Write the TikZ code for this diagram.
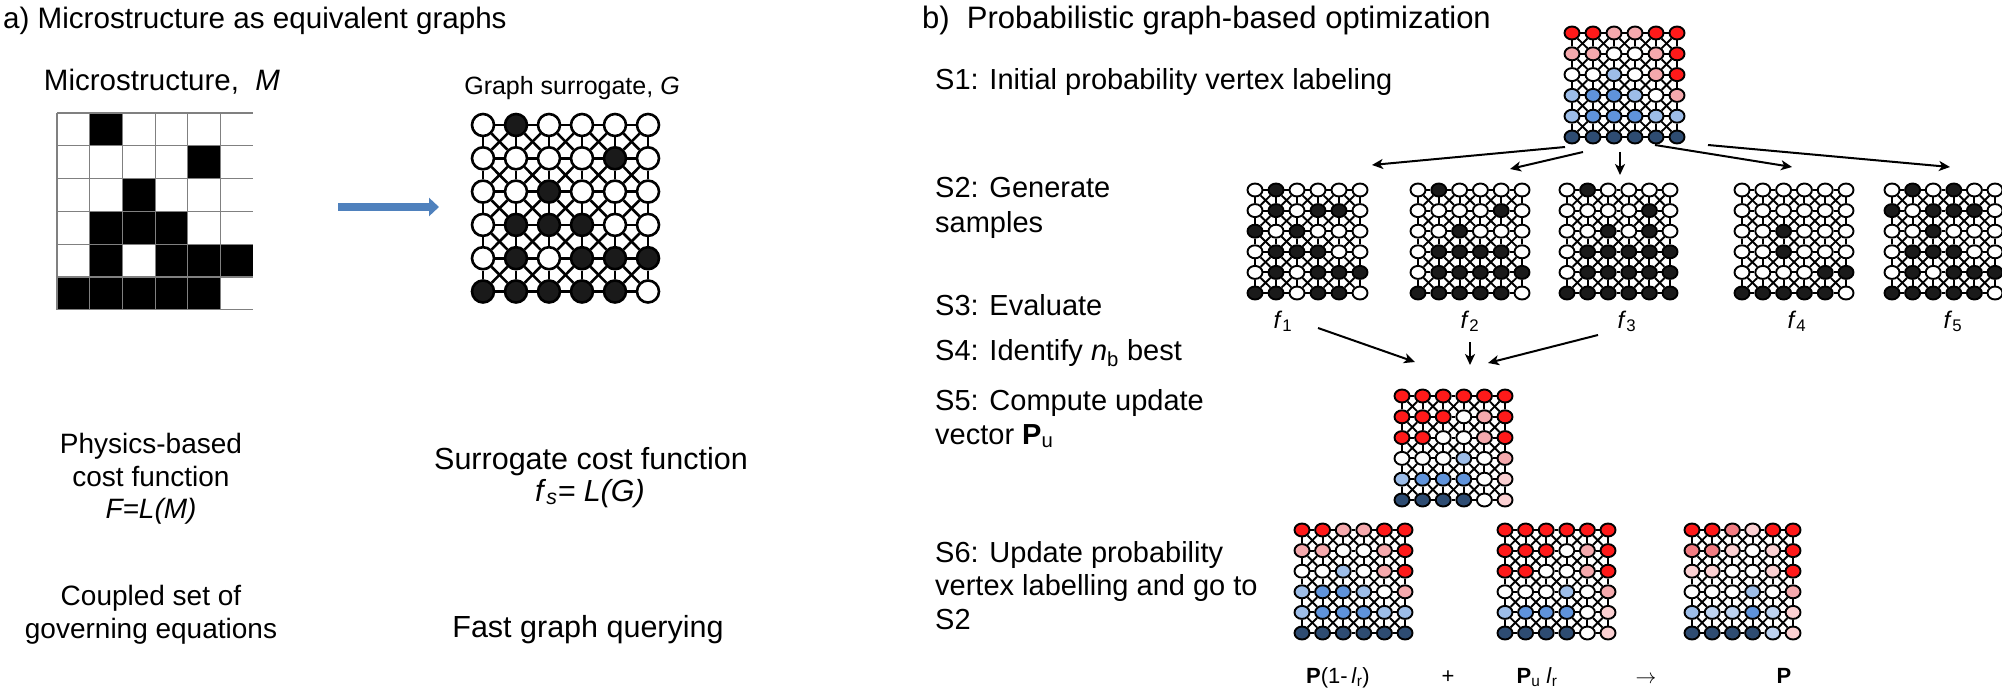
\documentclass[tikz,border=0pt]{standalone}
\usepackage{fontspec}
\setmainfont{Liberation Sans}
\usetikzlibrary{arrows.meta,backgrounds,shapes.geometric}

\definecolor{cR}{HTML}{FF1A1A}
\definecolor{cP}{HTML}{F5A9AD}
\definecolor{cL}{HTML}{FBD0D2}
\definecolor{cM}{HTML}{F27C82}
\definecolor{cW}{HTML}{FFFFFF}
\definecolor{cA}{HTML}{9DBDE8}
\definecolor{cB}{HTML}{5F93DB}
\definecolor{cC}{HTML}{BDD2F0}
\definecolor{cN}{HTML}{2E4C72}
\definecolor{cK}{HTML}{1A1A1A}
\definecolor{arrowblue}{HTML}{4F81BD}

\tikzset{
  bigv/.style={circle, draw, line width=2.6pt, minimum size=22pt, inner sep=0pt},
  bige/.style={line width=2.6pt},
  smv/.style={ellipse, draw, line width=1.9pt, minimum width=15pt, minimum height=13pt, inner sep=0pt},
  sme/.style={line width=1.9pt},
  gridl/.style={line width=1.2pt, color=gray},
  heada/.style={font=\fontsize{29.6}{34}\selectfont, inner sep=0pt, anchor=base west},
  headb/.style={font=\fontsize{31}{35}\selectfont, inner sep=0pt, anchor=base west},
  stxt/.style={font=\fontsize{29}{34}\selectfont, inner sep=0pt, anchor=base west},
  ctxt/.style={font=\fontsize{28}{33}\selectfont, inner sep=0pt, anchor=base},
  dtxt/.style={font=\fontsize{30.5}{35}\selectfont, inner sep=0pt, anchor=base},
  ttl/.style={font=\fontsize{25}{30}\selectfont, inner sep=0pt, anchor=base},
  ttlm/.style={font=\fontsize{29.5}{34}\selectfont, inner sep=0pt, anchor=base},
  flab/.style={font=\fontsize{24}{28}\selectfont, inner sep=0pt, anchor=base},
  blab/.style={font=\fontsize{22}{26}\selectfont, inner sep=0pt, anchor=base},
  arr/.style={line width=2pt, -{Stealth[length=11pt,width=10pt,inset=3pt]}},
}

% #1 prefix, #2 x0, #3 y0, #4 dx, #5 dy, #6 node style, #7 edge style, #8 colours
\newcommand{\kgraph}[8]{%
  \foreach \cc [count=\k from 0] in {#8} {%
    \pgfmathtruncatemacro\rr{\k/6}%
    \pgfmathtruncatemacro\qq{\k-6*\rr}%
    \node[#6, fill=\cc] (#1-\rr-\qq) at ({#2+\qq*#4},{#3+\rr*#5}) {};
  }
  \begin{pgfonlayer}{background}
  \foreach \i in {0,...,5} {\foreach \j in {0,...,4} {%
     \pgfmathtruncatemacro\jj{\j+1}%
     \draw[#7] (#1-\i-\j) -- (#1-\i-\jj);
     \draw[#7] (#1-\j-\i) -- (#1-\jj-\i);
  }}
  \foreach \i in {0,...,4} {\foreach \j in {0,...,4} {%
     \pgfmathtruncatemacro\ii{\i+1}%
     \pgfmathtruncatemacro\jj{\j+1}%
     \draw[#7] (#1-\i-\j) -- (#1-\ii-\jj);
     \draw[#7] (#1-\i-\jj) -- (#1-\ii-\j);
  }}
  \end{pgfonlayer}
}

\begin{document}
\begin{tikzpicture}[x=1pt,y=-1pt]
\useasboundingbox (0,0) rectangle (2002,690);

% ---------- panel a ----------
\node[heada] (ha) at (3,29) {a) Microstructure as equivalent graphs};
\node[ttlm] (tm) at (162,91) {Microstructure,\ \ \textit{M}};
\node[ttl] (tg) at (572,95) {Graph surrogate, \textit{G}};

% microstructure grid
\foreach \cc [count=\k from 0] in {0,1,0,0,0,0, 0,0,0,0,1,0, 0,0,1,0,0,0, 0,1,1,1,0,0, 0,1,0,1,1,1, 1,1,1,1,1,0} {%
  \pgfmathtruncatemacro\rr{\k/6}%
  \pgfmathtruncatemacro\qq{\k-6*\rr}%
  \ifnum\cc=1 \fill[black] ({57+\qq*32.7},{113+\rr*32.8}) rectangle ++(32.7,32.8); \fi
}
\foreach \i in {0,...,6} \draw[gridl] (57,{113+\i*32.8}) -- (253,{113+\i*32.8});
\foreach \i in {0,...,5} \draw[gridl] ({57+\i*32.7},113) -- ({57+\i*32.7},310);

% blue arrow
\coordinate (ba1) at (338,207);
\coordinate (ba2) at (439,207);
\draw[line width=8pt, color=arrowblue, -{Triangle[length=10pt,width=18pt]}] (ba1) -- (ba2);

% graph surrogate
\kgraph{g}{483}{125}{33}{33.3}{bigv}{bige}{cW,cK,cW,cW,cW,cW, cW,cW,cW,cW,cK,cW, cW,cW,cK,cW,cW,cW, cW,cK,cK,cK,cW,cW, cW,cK,cW,cK,cK,cK, cK,cK,cK,cK,cK,cW}

\node[ctxt] (p1) at (151,453) {Physics-based};
\node[ctxt] (p2) at (151,486) {cost function};
\node[ctxt] (p3) at (151,518) {\textit{F=L(M)}};
\node[ctxt] (p4) at (151,605) {Coupled set of};
\node[ctxt] (p5) at (151,638) {governing equations};
\node[dtxt] (q1) at (591,469) {Surrogate cost function};
\node[dtxt] (q2) at (590,501) {\textit{f}\textsubscript{\textit{s}}\textit{= L(G)}};
\node[dtxt] (q3) at (588,637) {Fast graph querying};

% ---------- panel b ----------
\node[headb] (hb) at (922,29) {b)\ \ Probabilistic graph-based optimization};
\node[stxt] (s1) at (935,90) {S1: Initial probability vertex labeling};
\node[stxt] (s2a) at (935,197) {S2: Generate};
\node[stxt] (s2b) at (935,232) {samples};
\node[stxt] (s3) at (935,315) {S3: Evaluate};
\node[stxt] (s4) at (935,360) {S4: Identify \textit{n}\textsubscript{b} best};
\node[stxt] (s5a) at (935,410) {S5: Compute update};
\node[stxt] (s5b) at (935,444) {vector \textbf{P}\textsubscript{u}};
\node[stxt] (s6a) at (935,562) {S6: Update probability};
\node[stxt] (s6b) at (935,595) {vertex labelling and go to};
\node[stxt] (s6c) at (935,629) {S2};

% S1 graph
\kgraph{sa}{1572}{33}{21}{20.8}{smv}{sme}{cR,cR,cP,cP,cR,cR, cP,cP,cW,cW,cP,cR, cW,cW,cA,cW,cP,cR, cA,cB,cB,cA,cW,cP, cA,cB,cB,cB,cA,cA, cN,cN,cN,cN,cN,cN}

% samples
\kgraph{fa}{1255}{190}{21}{20.6}{smv}{sme}{cW,cK,cW,cW,cW,cW, cW,cK,cW,cK,cK,cW, cK,cW,cK,cW,cW,cW, cW,cK,cK,cK,cW,cW, cW,cK,cW,cK,cK,cK, cK,cK,cW,cK,cK,cW}
\kgraph{fb}{1418}{190}{20.8}{20.6}{smv}{sme}{cW,cK,cW,cW,cW,cW, cW,cW,cW,cW,cK,cW, cW,cW,cK,cW,cW,cW, cW,cK,cK,cK,cK,cW, cW,cK,cK,cK,cK,cK, cK,cK,cK,cK,cK,cW}
\kgraph{fc}{1567}{190}{20.6}{20.6}{smv}{sme}{cW,cK,cW,cW,cW,cW, cW,cW,cW,cW,cK,cW, cW,cW,cK,cW,cK,cW, cW,cK,cK,cK,cK,cK, cW,cK,cK,cK,cK,cK, cK,cK,cK,cK,cK,cK}
\kgraph{fd}{1742}{190}{20.8}{20.6}{smv}{sme}{cW,cW,cW,cW,cW,cW, cW,cW,cW,cW,cW,cW, cW,cW,cK,cW,cW,cW, cW,cW,cK,cW,cW,cW, cW,cW,cW,cW,cK,cK, cK,cK,cK,cK,cK,cW}
\kgraph{fe}{1892}{190}{20.6}{20.6}{smv}{sme}{cW,cK,cW,cK,cW,cW, cK,cW,cK,cK,cK,cW, cW,cW,cK,cW,cW,cW, cW,cK,cK,cK,cW,cW, cW,cK,cW,cK,cK,cK, cK,cK,cK,cK,cK,cW}

\node[flab] (l1) at (1283,328) {\textit{f}\textsubscript{1}};
\node[flab] (l2) at (1470,328) {\textit{f}\textsubscript{2}};
\node[flab] (l3) at (1627,328) {\textit{f}\textsubscript{3}};
\node[flab] (l4) at (1797,328) {\textit{f}\textsubscript{4}};
\node[flab] (l5) at (1953,328) {\textit{f}\textsubscript{5}};

% S5 graph
\kgraph{su}{1402}{396}{20.6}{20.8}{smv}{sme}{cR,cR,cR,cR,cR,cR, cR,cR,cR,cW,cP,cR, cR,cR,cW,cW,cP,cR, cW,cW,cW,cA,cW,cP, cA,cB,cB,cB,cW,cL, cN,cN,cN,cN,cW,cL}

% S6 graphs
\kgraph{ua}{1302}{530}{20.6}{20.6}{smv}{sme}{cR,cR,cP,cP,cR,cR, cP,cP,cW,cW,cP,cR, cW,cW,cA,cW,cP,cR, cA,cB,cB,cA,cW,cP, cA,cB,cB,cB,cA,cA, cN,cN,cN,cN,cN,cN}
\kgraph{ub}{1505}{530}{20.6}{20.6}{smv}{sme}{cR,cR,cR,cR,cR,cR, cR,cR,cR,cW,cP,cR, cR,cR,cW,cW,cP,cR, cW,cW,cW,cA,cW,cP, cA,cB,cB,cB,cW,cL, cN,cN,cN,cN,cW,cL}
\kgraph{uc}{1692}{530}{20.2}{20.6}{smv}{sme}{cR,cR,cM,cL,cR,cR, cM,cM,cL,cW,cL,cR, cL,cL,cW,cW,cL,cR, cW,cW,cW,cA,cW,cP, cA,cC,cC,cB,cC,cL, cN,cN,cN,cN,cC,cL}

\node[blab] (b1) at (1338,683) {\textbf{P}(1-\,\textit{l}\textsubscript{r})};
\node[blab] (b2) at (1448,683) {+};
\node[blab] (b3) at (1537,683) {\textbf{P}\textsubscript{u}\ \textit{l}\textsubscript{r}};
\node[blab] (b4) at (1646,683) {$\rightarrow$};
\node[blab] (b5) at (1784,683) {\textbf{P}};

% arrows
\coordinate (a1s) at (1565,147); \coordinate (a1e) at (1372,165);
\coordinate (a2s) at (1583,152); \coordinate (a2e) at (1510,169);
\coordinate (a3s) at (1620,152); \coordinate (a3e) at (1620,175);
\coordinate (a4s) at (1655,145); \coordinate (a4e) at (1792,167);
\coordinate (a5s) at (1708,145); \coordinate (a5e) at (1950,167);
\coordinate (a6s) at (1318,328); \coordinate (a6e) at (1415,362);
\coordinate (a7s) at (1470,342); \coordinate (a7e) at (1470,365);
\coordinate (a8s) at (1598,335); \coordinate (a8e) at (1488,363);
\foreach \n in {1,...,8} \draw[arr] (a\n s) -- (a\n e);
\end{tikzpicture}
\end{document}
